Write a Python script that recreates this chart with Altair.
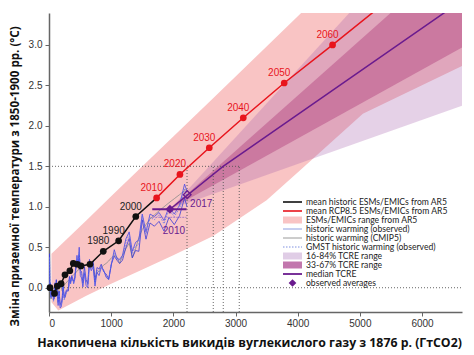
import altair as alt
import pandas as pd

# ---------------- data ----------------
# AR5 mean historic ESMs/EMICs (decadal points 1880..2000)
hist_x = [16, 88, 134, 195, 257, 335, 391, 455, 514, 659, 873, 1120, 1396]
hist_y = [0.00, -0.07, 0.02, 0.05, 0.16, 0.21, 0.30, 0.29, 0.27, 0.29, 0.45, 0.58, 0.88]
hist_lab = ["", "", "", "", "", "", "", "", "", "", "1980", "1990", "2000"]

# AR5 mean RCP8.5 (decadal points 2010..2060, then beyond the frame)
rcp_x = [1731, 2106, 2578, 3125, 3783, 4561]
rcp_y = [1.11, 1.40, 1.73, 2.10, 2.53, 3.00]
rcp_lab = ["2010", "2020", "2030", "2040", "2050", "2060"]
rcp_next_x = [5400]
rcp_next_y = [3.52]

# ESMs/EMICs range from AR5
esm_x = [40, 150, 600, 1000, 1460, 2000, 2640, 3500, 4035, 5048, 6643]
esm_lo = [-0.18, -0.28, -0.10, 0.05, 0.21, 0.40, 0.64, 1.08, 1.45, 2.15, 2.74]
esm_hi = [0.42, 0.50, 0.83, 1.13, 1.47, 1.87, 2.34, 2.98, 3.38, 4.13, 5.30]

# TCRE plumes from the 2010 observed average
tcre_x = [1945, 6643]
tcre16 = [0.97, 2.25]
tcre84 = [0.97, 4.92]
tcre33 = [0.97, 2.97]
tcre67 = [0.97, 4.18]
med_x = [1945, 2800, 6643]
med_y = [0.97, 1.50, 3.55]

# observed averages
avg_x = [1945, 2223]
avg_y = [0.97, 1.15]
avg_lab = ["2010", "2017"]
bar_x = [1661, 2213]
bar_y = [0.97, 0.87]

# reference dotted lines
ref15_x = [0, 3060]
ref_vx = [2220, 2642, 2803, 3060]

# observed / CMIP5 annual series (years 1876,1877,1878,1880,1882,...,2016,2017)
obs_cum = [0, 4, 8, 16, 24, 33, 42, 52, 62, 72,
           82, 94, 106, 118, 132, 147, 163, 179, 195, 211,
           227, 244, 261, 278, 295, 312, 329, 347, 365, 381,
           397, 414, 432, 450, 468, 486, 504, 524, 545, 570,
           596, 623, 651, 680, 710, 740, 772, 805, 840, 878,
           918, 960, 1005, 1050, 1093, 1136, 1182, 1235, 1290, 1340,
           1392, 1445, 1500, 1560, 1625, 1695, 1770, 1850, 1930, 2015,
           2100, 2180, 2220]
obs1 = [-0.03, 0.30, 0.42, 0.04, 0.03, -0.11, -0.02, -0.04, -0.06, -0.15,
        -0.14, 0.04, -0.06, 0.10, -0.05, -0.18, -0.04, -0.21, -0.19, -0.14,
        0.05, -0.13, -0.12, -0.05, -0.03, -0.04, 0.14, 0.07, 0.13, 0.10,
        0.08, 0.12, 0.26, 0.34, 0.29, 0.41, 0.21, 0.20, 0.06, 0.26,
        0.10, 0.05, 0.35, 0.26, 0.33, 0.07, 0.25, 0.23, 0.29, 0.20,
        0.17, 0.11, 0.30, 0.39, 0.34, 0.30, 0.34, 0.49, 0.61, 0.37,
        0.46, 0.45, 0.84, 0.60, 0.80, 0.76, 0.82, 0.70, 0.87, 0.78,
        0.89, 1.11, 1.00]
obs2 = [None, None, None, 0.02, 0.06, -0.12, -0.05, -0.02, -0.10, -0.12,
        -0.13, 0.06, -0.07, 0.09, -0.02, -0.22, -0.05, -0.25, -0.24, -0.17,
        0.01, -0.11, -0.08, -0.03, -0.02, -0.01, 0.12, 0.05, 0.15, 0.12,
        0.05, 0.10, 0.24, 0.40, 0.28, 0.50, 0.15, 0.12, 0.01, 0.18,
        0.03, 0.00, 0.28, 0.21, 0.26, 0.02, 0.19, 0.15, 0.25, 0.22,
        0.13, 0.10, 0.29, 0.47, 0.36, 0.35, 0.40, 0.60, 0.69, 0.45,
        0.56, 0.59, 0.91, 0.69, 0.91, 0.88, 0.93, 0.83, 1.00, 0.91,
        1.02, 1.28, 1.19]
gmst = [-0.05, 0.25, 0.38, 0.02, 0.00, -0.13, -0.06, -0.01, -0.09, -0.17,
        -0.12, 0.02, -0.09, 0.07, -0.06, -0.20, -0.07, -0.23, -0.21, -0.16,
        0.02, -0.15, -0.10, -0.06, -0.05, -0.03, 0.11, 0.05, 0.11, 0.08,
        0.06, 0.11, 0.23, 0.36, 0.31, 0.44, 0.18, 0.17, 0.04, 0.22,
        0.08, 0.03, 0.31, 0.23, 0.30, 0.05, 0.22, 0.19, 0.27, 0.21,
        0.15, 0.10, 0.31, 0.43, 0.36, 0.33, 0.38, 0.55, 0.66, 0.42,
        0.52, 0.53, 0.90, 0.66, 0.87, 0.84, 0.90, 0.79, 0.96, 0.88,
        0.98, 1.22, 1.12]
cmip = [0.02, 0.03, 0.05, 0.06, 0.04, -0.14, -0.08, -0.04, -0.03, -0.01,
        0.00, 0.02, 0.03, 0.03, -0.03, -0.08, -0.02, 0.00, 0.02, -0.04,
        -0.02, 0.03, 0.05, 0.06, 0.08, 0.09, 0.10, 0.12, 0.14, 0.15,
        0.16, 0.17, 0.19, 0.20, 0.22, 0.23, 0.24, 0.25, 0.26, 0.27,
        0.28, 0.29, 0.30, 0.31, 0.30, 0.12, 0.18, 0.21, 0.25, 0.28,
        0.30, 0.33, 0.37, 0.40, 0.38, 0.30, 0.40, 0.48, 0.55, 0.37,
        0.48, 0.62, 0.72, 0.78, 0.85, 0.90, 0.95, 1.00, 1.05, 1.10,
        1.15, 1.20, 1.22]

x_ticks = [0, 1000, 2000, 3000, 4000, 5000, 6000]
y_ticks = [0.0, 0.5, 1.0, 1.5, 2.0, 2.5, 3.0]
x_title = "Накопичена кількість викидів вуглекислого газу з 1876 р. (ГтCO2)"
y_title = "Зміна приземної температури з 1850-1900 рр. (°C)"

leg_labels = ["mean historic ESMs/EMICs from AR5",
              "mean RCP8.5 ESMs/EMICs from AR5",
              "ESMs/EMICs range from AR5",
              "historic warming (observed)",
              "historic warming (CMIP5)",
              "GMST historic warming (observed)",
              "16-84% TCRE range",
              "33-67% TCRE range",
              "median TCRE",
              "observed averages"]

# ---------------- colours ----------------
C_BLACK = "#111111"
C_RED = "#e8141c"
C_PINK = "#f9c4c4"
C_LAV = "#a05aaa"
C_MAUVE = "#b64c84"
C_PURPLE = "#6a1b8e"
C_BLUE = "#3a3ad8"
C_GRAY = "#8a8a8a"
C_REF = "#555555"

XS = alt.Scale(domain=[0, 6643], nice=False, zero=False)
YS = alt.Scale(domain=[-0.30, 3.395], nice=False, zero=False)
AX = alt.Axis(values=x_ticks, format="d", title=x_title, grid=False,
              domainColor="#666666", domainWidth=1.5, tickColor="#666666",
              tickSize=4, labelFont="Liberation Sans", labelFontSize=10,
              labelColor="#333333", labelPadding=2,
              titleFont="Open Sans", titleFontSize=12.3, titleFontWeight="bold",
              titleColor="#111111", titleX=200, titleY=30,
              titleAlign="center", titleBaseline="middle")
AY = alt.Axis(values=y_ticks, format=".1f", title=y_title, grid=False,
              domainColor="#666666", domainWidth=1.5, tickColor="#666666",
              tickSize=4, labelFont="Liberation Sans", labelFontSize=10,
              labelColor="#333333", labelPadding=3,
              titleFont="Open Sans", titleFontSize=11.6, titleFontWeight="bold",
              titleColor="#111111", titleAngle=270, titleX=-34, titleY=163,
              titleAlign="center", titleBaseline="middle")


def X(f):
    return alt.X(f"{f}:Q", scale=XS, axis=AX)


def Y(f):
    return alt.Y(f"{f}:Q", scale=YS, axis=AY)


layers = []

# ESM range plume
df_esm = pd.DataFrame({"x": esm_x, "lo": esm_lo, "hi": esm_hi})
layers.append(alt.Chart(df_esm).mark_area(color=C_PINK, clip=True)
              .encode(x=X("x"), y=Y("lo"), y2="hi"))

# TCRE ranges
df_t = pd.DataFrame({"x": tcre_x, "a": tcre16, "b": tcre84, "c": tcre33, "d": tcre67})
layers.append(alt.Chart(df_t).mark_area(color=C_LAV, opacity=0.28, clip=True)
              .encode(x=X("x"), y=Y("a"), y2="b"))
layers.append(alt.Chart(df_t).mark_area(color=C_MAUVE, opacity=0.5, clip=True)
              .encode(x=X("x"), y=Y("c"), y2="d"))

# dotted reference lines
df_zero = pd.DataFrame({"x": [0], "x2": [6643], "y": [0.0]})
layers.append(alt.Chart(df_zero).mark_rule(color=C_REF, strokeDash=[1, 2], strokeWidth=0.9)
              .encode(x=X("x"), x2="x2", y=Y("y")))
df_15 = pd.DataFrame({"x": [ref15_x[0]], "x2": [ref15_x[1]], "y": [1.5]})
layers.append(alt.Chart(df_15).mark_rule(color=C_REF, strokeDash=[1, 2], strokeWidth=0.9)
              .encode(x=X("x"), x2="x2", y=Y("y")))
df_v = pd.DataFrame({"x": ref_vx, "y": [-0.30] * len(ref_vx), "y2": [1.5] * len(ref_vx)})
layers.append(alt.Chart(df_v).mark_rule(color=C_REF, strokeDash=[1, 2], strokeWidth=0.9)
              .encode(x=X("x"), y=Y("y"), y2="y2"))

# observed / CMIP5 series
df_obs = pd.DataFrame({"x": obs_cum, "o1": obs1, "o2": obs2, "g": gmst, "c": cmip})
layers.append(alt.Chart(df_obs).mark_line(color=C_GRAY, strokeWidth=0.8, clip=True)
              .encode(x=X("x"), y=Y("c")))
layers.append(alt.Chart(df_obs).mark_line(color=C_BLUE, strokeWidth=0.8, clip=True)
              .encode(x=X("x"), y=Y("o1")))
layers.append(alt.Chart(df_obs).mark_line(color="#4646e6", strokeWidth=0.8, clip=True)
              .encode(x=X("x"), y=Y("o2")))
layers.append(alt.Chart(df_obs).mark_line(color="#5a6ee8", strokeWidth=0.8,
                                          strokeDash=[1.5, 1.5], clip=True)
              .encode(x=X("x"), y=Y("g")))

# median TCRE
df_med = pd.DataFrame({"x": med_x, "y": med_y})
layers.append(alt.Chart(df_med).mark_line(color=C_PURPLE, strokeWidth=1.5, clip=True)
              .encode(x=X("x"), y=Y("y")))

# observed-average bars
df_bar = pd.DataFrame({"x": [bar_x[0]], "x2": [bar_x[1]], "y": [bar_y[0]]})
layers.append(alt.Chart(df_bar).mark_rule(color=C_PURPLE, strokeWidth=2)
              .encode(x=X("x"), x2="x2", y=Y("y")))
df_bar2 = pd.DataFrame({"x": [bar_x[0]], "x2": [bar_x[1]], "y": [bar_y[1]]})
layers.append(alt.Chart(df_bar2).mark_rule(color="#a77cc8", strokeWidth=1, strokeDash=[2, 1])
              .encode(x=X("x"), x2="x2", y=Y("y")))

# AR5 mean lines
df_hist = pd.DataFrame({"x": hist_x + rcp_x[:1], "y": hist_y + rcp_y[:1]})
layers.append(alt.Chart(df_hist).mark_line(color=C_BLACK, strokeWidth=1.5)
              .encode(x=X("x"), y=Y("y")))
df_rcpl = pd.DataFrame({"x": rcp_x + rcp_next_x, "y": rcp_y + rcp_next_y})
layers.append(alt.Chart(df_rcpl).mark_line(color=C_RED, strokeWidth=1.5, clip=True)
              .encode(x=X("x"), y=Y("y")))

df_hd = pd.DataFrame({"x": hist_x, "y": hist_y, "lab": hist_lab})
layers.append(alt.Chart(df_hd).mark_point(filled=True, color=C_BLACK, size=45, opacity=1)
              .encode(x=X("x"), y=Y("y")))
layers.append(alt.Chart(df_hd).mark_text(color="#222222", font="Liberation Sans", fontSize=10,
                                         dx=-5, dy=-10)
              .encode(x=X("x"), y=Y("y"), text="lab:N"))
df_rd = pd.DataFrame({"x": rcp_x, "y": rcp_y, "lab": rcp_lab})
layers.append(alt.Chart(df_rd).mark_point(filled=True, color=C_RED, size=45, opacity=1)
              .encode(x=X("x"), y=Y("y")))
layers.append(alt.Chart(df_rd).mark_text(color=C_RED, font="Liberation Sans", fontSize=10,
                                         dx=-5, dy=-10)
              .encode(x=X("x"), y=Y("y"), text="lab:N"))

# observed averages diamonds + labels
df_a1 = pd.DataFrame({"x": avg_x[:1], "y": avg_y[:1], "lab": avg_lab[:1]})
df_a2 = pd.DataFrame({"x": avg_x[1:], "y": avg_y[1:], "lab": avg_lab[1:]})
layers.append(alt.Chart(df_a1).mark_point(shape="diamond", filled=True, color=C_PURPLE,
                                          size=80, opacity=1)
              .encode(x=X("x"), y=Y("y")))
layers.append(alt.Chart(df_a2).mark_point(shape="diamond", filled=False, color=C_PURPLE,
                                          size=60, strokeWidth=1.3, opacity=1)
              .encode(x=X("x"), y=Y("y")))
layers.append(alt.Chart(df_a1).mark_text(color=C_PURPLE, font="Liberation Sans", fontSize=10,
                                         dx=4, dy=22)
              .encode(x=X("x"), y=Y("y"), text="lab:N"))
layers.append(alt.Chart(df_a2).mark_text(color=C_PURPLE, font="Liberation Sans", fontSize=10,
                                         dx=14, dy=9)
              .encode(x=X("x"), y=Y("y"), text="lab:N"))

# ---------------- manual legend ----------------
LX0, LX1, LT = 234, 253, 257
rows = [189 + 9 * i for i in range(len(leg_labels))]
df_lt = pd.DataFrame({"py": rows, "lab": leg_labels})
layers.append(alt.Chart(df_lt).mark_text(align="left", baseline="middle", font="Lato",
                                         fontSize=8.6, color="#222222")
              .encode(x=alt.value(LT), y=alt.Y("py:Q", scale=None), text="lab:N"))
df_ll = pd.DataFrame({"py": [rows[0], rows[1], rows[3], rows[4], rows[8]],
                      "col": [C_BLACK, C_RED, "#8f9ee0", "#9a9a9a", C_PURPLE],
                      "w": [1.6, 1.6, 1.0, 1.0, 1.8]})
layers.append(alt.Chart(df_ll).mark_rule()
              .encode(x=alt.value(LX0), x2=alt.value(LX1), y=alt.Y("py:Q", scale=None),
                      color=alt.Color("col:N", scale=None),
                      strokeWidth=alt.StrokeWidth("w:Q", scale=None)))
df_ld = pd.DataFrame({"py": [rows[5]]})
layers.append(alt.Chart(df_ld).mark_rule(color="#7f90e0", strokeWidth=1, strokeDash=[1.5, 1.5])
              .encode(x=alt.value(LX0), x2=alt.value(LX1), y=alt.Y("py:Q", scale=None)))
df_lr = pd.DataFrame({"t": [rows[2] - 3.5, rows[6] - 3.5, rows[7] - 3.5],
                      "b": [rows[2] + 3.5, rows[6] + 3.5, rows[7] + 3.5],
                      "col": [C_PINK, "#e0cde6", "#c277ad"]})
layers.append(alt.Chart(df_lr).mark_rect()
              .encode(x=alt.value(LX0), x2=alt.value(LX1), y=alt.Y("t:Q", scale=None),
                      y2="b:Q", color=alt.Color("col:N", scale=None)))
df_lp = pd.DataFrame({"py": [rows[9]]})
layers.append(alt.Chart(df_lp).mark_point(shape="diamond", filled=True, color=C_PURPLE,
                                          size=60, opacity=1)
              .encode(x=alt.value((LX0 + LX1) / 2), y=alt.Y("py:Q", scale=None)))

chart = alt.layer(*layers).properties(
    width=413, height=299,
    autosize=alt.AutoSizeParams(type="none"),
    padding={"left": 49, "top": 13, "right": 12, "bottom": 43},
    background="white",
).configure_view(stroke=None)

chart.save("out.html", embed_options={"renderer": "svg", "actions": False})
